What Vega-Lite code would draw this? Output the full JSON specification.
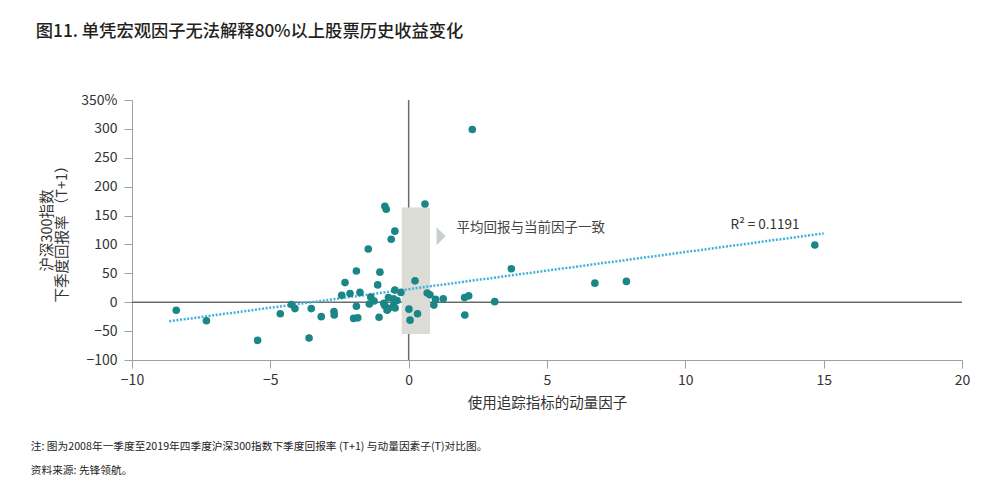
{
  "$schema": "https://vega.github.io/schema/vega-lite/v6.json",
  "background": "white",
  "padding": {"left": 30, "top": 22, "right": 20, "bottom": 10},
  "config": {"font": "Noto Sans CJK SC", "view": {"stroke": null}, "concat": {"spacing": 0}},
  "title": {"text": "图11. 单凭宏观因子无法解释80%以上股票历史收益变化", "anchor": "start", "fontSize": 17.3, "fontWeight": 500, "color": "#231f20", "offset": 53, "dx": 5},
  "datasets": {
    "points": [
      {"x": -8.40, "y": -14}, {"x": -7.31, "y": -32}, {"x": -5.46, "y": -66}, {"x": -4.64, "y": -20},
      {"x": -4.24, "y": -4}, {"x": -4.11, "y": -11}, {"x": -3.60, "y": -62}, {"x": -3.52, "y": -11},
      {"x": -3.16, "y": -25}, {"x": -2.70, "y": -16}, {"x": -2.69, "y": -22}, {"x": -2.42, "y": 12},
      {"x": -2.30, "y": 34}, {"x": -2.12, "y": 15}, {"x": -1.99, "y": -28}, {"x": -1.84, "y": -27},
      {"x": -1.89, "y": -7}, {"x": -1.89, "y": 54}, {"x": -1.76, "y": 17}, {"x": -1.46, "y": 92},
      {"x": -1.42, "y": -3}, {"x": -1.37, "y": 9}, {"x": -1.25, "y": 2}, {"x": -1.12, "y": 30},
      {"x": -1.07, "y": -26}, {"x": -1.04, "y": 52}, {"x": -0.90, "y": -2}, {"x": -0.86, "y": 166},
      {"x": -0.81, "y": 161}, {"x": -0.78, "y": -14}, {"x": -0.73, "y": 8}, {"x": -0.55, "y": 6},
      {"x": -0.86, "y": -6}, {"x": -0.55, "y": -6}, {"x": -0.73, "y": -11}, {"x": -0.49, "y": -10},
      {"x": -0.42, "y": 3}, {"x": -0.63, "y": 109}, {"x": -0.50, "y": 123}, {"x": -0.50, "y": 21},
      {"x": -0.28, "y": 17}, {"x": 0.01, "y": -12}, {"x": 0.05, "y": -31}, {"x": 0.23, "y": 37},
      {"x": 0.32, "y": -20}, {"x": 0.59, "y": 170}, {"x": 2.30, "y": 299}, {"x": 3.71, "y": 58},
      {"x": 0.67, "y": 16}, {"x": 0.77, "y": 13}, {"x": 0.97, "y": 5}, {"x": 0.91, "y": -5},
      {"x": 1.25, "y": 6}, {"x": 2.02, "y": 8}, {"x": 2.17, "y": 11}, {"x": 2.03, "y": -22},
      {"x": 3.11, "y": 1}, {"x": 6.73, "y": 33}, {"x": 7.87, "y": 36}, {"x": 14.68, "y": 99}
    ],
    "trend": [{"x": -8.65, "y": -33}, {"x": 15.0, "y": 119}],
    "band": [{"x1": -0.25, "x2": 0.77, "y1": -55, "y2": 164}],
    "zero": [{"v": 0}],
    "marker": [{"x": 1.17, "y": 114}],
    "note": [{"x": 1.73, "y": 128, "label": "平均回报与当前因子一致"}],
    "r2": [{"x": 12.88, "y": 133, "label": "R² = 0.1191"}]
  },
  "vconcat": [
    {
      "width": 830,
      "height": 260,
      "title": {
        "text": ["注: 图为2008年一季度至2019年四季度沪深300指数下季度回报率 (T+1) 与动量因素子(T)对比图。", "资料来源: 先锋领航。"],
        "orient": "bottom", "anchor": "start", "fontSize": 10.7, "fontWeight": "normal",
        "lineHeight": 24, "color": "#222222", "offset": 32, "dx": -9
      },
      "layer": [
        {
          "data": {"name": "zero"},
          "mark": {"type": "rule", "color": "#6b6b6b", "strokeWidth": 1.5},
          "encoding": {
            "y": {
              "field": "v", "type": "quantitative",
              "scale": {"domain": [-100, 350], "nice": false},
              "axis": {
                "title": ["沪深300指数", "下季度回报率 （T+1）"], "values": [-100, -50, 0, 50, 100, 150, 200, 250, 300, 350],
                "tickCount": 20,
                "labelExpr": "datum.value == 350 ? '350%' : ((datum.value == 0 || datum.value == -100) ? datum.label + ' ' : datum.label)",
                "grid": false, "labelOverlap": false,
                "domainColor": "#9f9f9f", "tickColor": "#9f9f9f", "tickSize": 8, "labelFontSize": 14,
                "labelColor": "#333333", "labelPadding": 7, "titleFontSize": 14.5, "titleFontWeight": "normal",
                "titleColor": "#333333", "titlePadding": 11, "titleLineHeight": 15, "labelFlush": false
              }
            }
          }
        },
        {
          "data": {"name": "zero"},
          "mark": {"type": "rule", "color": "#6b6b6b", "strokeWidth": 1.5},
          "encoding": {
            "x": {
              "field": "v", "type": "quantitative",
              "scale": {"domain": [-10, 20], "nice": false},
              "axis": {
                "title": "使用追踪指标的动量因子", "values": [-10, -5, 0, 5, 10, 15, 20], "tickCount": 20, "grid": false,
                "labelOverlap": false,
                "domainColor": "#9f9f9f", "tickColor": "#9f9f9f", "tickSize": 8, "labelFontSize": 14,
                "labelColor": "#333333", "labelPadding": 5, "titleFontSize": 14.5, "titleFontWeight": "normal",
                "titleColor": "#333333", "titlePadding": 9, "labelFlush": false
              }
            }
          }
        },
        {
          "data": {"name": "band"},
          "mark": {"type": "rect", "color": "#dcdcd7"},
          "encoding": {
            "x": {"field": "x1", "type": "quantitative"},
            "x2": {"field": "x2"},
            "y": {"field": "y1", "type": "quantitative"},
            "y2": {"field": "y2"}
          }
        },
        {
          "data": {"name": "trend"},
          "mark": {"type": "line", "color": "#3fb2dc", "strokeWidth": 2.5, "strokeDash": [2, 1.6]},
          "encoding": {
            "x": {"field": "x", "type": "quantitative"},
            "y": {"field": "y", "type": "quantitative"}
          }
        },
        {
          "data": {"name": "points"},
          "mark": {"type": "circle", "color": "#1b8687", "opacity": 1, "size": 58},
          "encoding": {
            "x": {"field": "x", "type": "quantitative"},
            "y": {"field": "y", "type": "quantitative"}
          }
        },
        {
          "data": {"name": "marker"},
          "mark": {"type": "point", "shape": "M-0.5,-1L0.5,0L-0.5,1Z", "filled": true, "color": "#c8cfd2", "opacity": 1, "size": 324},
          "encoding": {
            "x": {"field": "x", "type": "quantitative"},
            "y": {"field": "y", "type": "quantitative"}
          }
        },
        {
          "data": {"name": "note"},
          "mark": {"type": "text", "fontSize": 13.5, "color": "#444444", "baseline": "middle", "align": "left"},
          "encoding": {
            "x": {"field": "x", "type": "quantitative"},
            "y": {"field": "y", "type": "quantitative"},
            "text": {"field": "label"}
          }
        },
        {
          "data": {"name": "r2"},
          "mark": {"type": "text", "fontSize": 13.5, "color": "#333333", "baseline": "middle", "align": "center"},
          "encoding": {
            "x": {"field": "x", "type": "quantitative"},
            "y": {"field": "y", "type": "quantitative"},
            "text": {"field": "label"}
          }
        }
      ]
    }
  ]
}
